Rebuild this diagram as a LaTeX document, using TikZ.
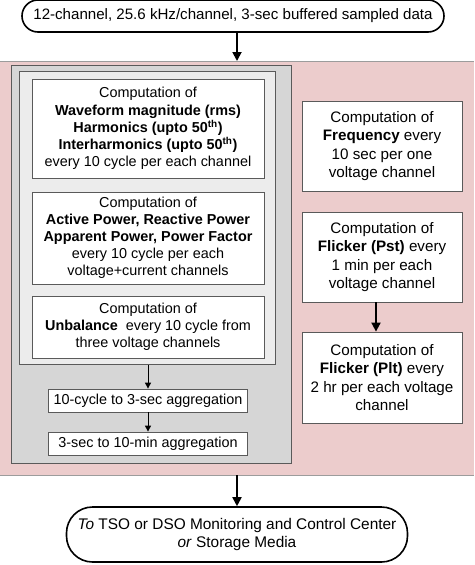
\documentclass[tikz,border=0pt]{standalone}
\usepackage{fontspec}
\setmainfont{Liberation Sans}
\usetikzlibrary{arrows.meta}
\definecolor{pinkbg}{RGB}{236,204,204}
\definecolor{graypanel}{RGB}{214,214,214}
\definecolor{innerbg}{RGB}{236,236,236}
\definecolor{edgegray}{RGB}{90,90,90}
\tikzset{
  fsmall/.style={font=\fontsize{14.4}{17}\selectfont},
  fright/.style={font=\fontsize{15.2}{18.6}\selectfont},
  region/.style={draw=none, inner sep=0pt, anchor=north west},
  compbox/.style={draw=edgegray, line width=0.8pt, fill=white, inner sep=0pt, align=center, fsmall},
  rightbox/.style={draw=edgegray, line width=0.8pt, fill=white, inner sep=0pt, align=center, fright},
  terminal/.style={draw=black, line width=1.6pt, fill=white, inner sep=0pt, align=center},
  bigarrow/.style={line width=1.8pt, -{Triangle[length=9pt,width=9pt]}},
  smallarrow/.style={line width=1pt, -{Triangle[length=6pt,width=6pt]}},
}
\begin{document}
\begin{tikzpicture}[x=1pt,y=-1pt]
\useasboundingbox (0,0) rectangle (474,565);
% background regions
\node[region, fill=pinkbg, minimum width=474pt, minimum height=414pt] (pink) at (0,61) {};
\draw[edgegray!60, line width=0.6pt] (pink.north west) -- (pink.north east);
\draw[edgegray!60, line width=0.6pt] (pink.south west) -- (pink.south east);
\node[region, fill=graypanel, draw=edgegray, line width=0.8pt, minimum width=280pt, minimum height=398pt] (gray) at (11,65) {};
\node[region, fill=innerbg, draw=edgegray, line width=0.8pt, minimum width=256pt, minimum height=293pt] (inner) at (19,71) {};

% top terminal
\node[terminal, rounded corners=16pt, minimum width=422pt, minimum height=32pt, font=\fontsize{15.1}{18}\selectfont] (src) at (233,16)
  {12-channel, 25.6 kHz/channel, 3-sec buffered sampled data};

% left computations
\node[compbox, minimum width=232pt, minimum height=99pt] (wave) at (148,128.5)
  {Computation of\\[1.5pt] \textbf{Waveform magnitude (rms)}\\ \textbf{Harmonics (upto 50\textsuperscript{th})}\\ \textbf{Interharmonics (upto 50\textsuperscript{th})}\\ every 10 cycle per each channel};
\node[compbox, minimum width=232pt, minimum height=92pt] (power) at (148,238)
  {Computation of\\ \textbf{Active Power, Reactive Power}\\ \textbf{Apparent Power, Power Factor}\\ every 10 cycle per each\\ voltage+current channels};
\node[compbox, minimum width=232pt, minimum height=62pt] (unbal) at (148,327)
  {Computation of\\ \textbf{Unbalance}\ \ every 10 cycle from\\ three voltage channels};

% aggregation
\node[compbox, minimum width=199pt, minimum height=23pt] (agg1) at (148,400.5) {10-cycle to 3-sec aggregation};
\node[compbox, minimum width=199pt, minimum height=23pt] (agg2) at (148,443.5) {3-sec to 10-min aggregation};

% right computations
\node[rightbox, minimum width=160pt, minimum height=90pt] (freq) at (382,146)
  {Computation of\\ \textbf{Frequency} every\\ 10 sec per one\\ voltage channel};
\node[rightbox, minimum width=160pt, minimum height=90pt] (pst) at (382,257)
  {Computation of\\ \textbf{Flicker (Pst)} every\\ 1 min per each\\ voltage channel};
\node[rightbox, minimum width=160pt, minimum height=91pt] (plt) at (382,377.5)
  {Computation of\\ \textbf{Flicker (Plt)} every\\ 2 hr per each voltage\\ channel};

% bottom terminal
\node[terminal, rounded corners=26pt, minimum width=341pt, minimum height=55pt, font=\fontsize{15.4}{18.5}\selectfont] (dest) at (237,534.5)
  {\textit{To} TSO or DSO Monitoring and Control Center\\ \textit{or} Storage Media};

% connectors
\coordinate (srcout) at ([xshift=4pt]src.south);
\draw[bigarrow] (srcout) -- (srcout |- pink.north);
\draw[smallarrow] (inner.south -| agg1.north) -- (agg1.north);
\draw[smallarrow] (agg1.south) -- (agg2.north);
\draw[bigarrow] (pst.south -| 376,0) -- (plt.north -| 376,0);
\draw[bigarrow] (pink.south -| dest.north) -- (dest.north);
\end{tikzpicture}
\end{document}
